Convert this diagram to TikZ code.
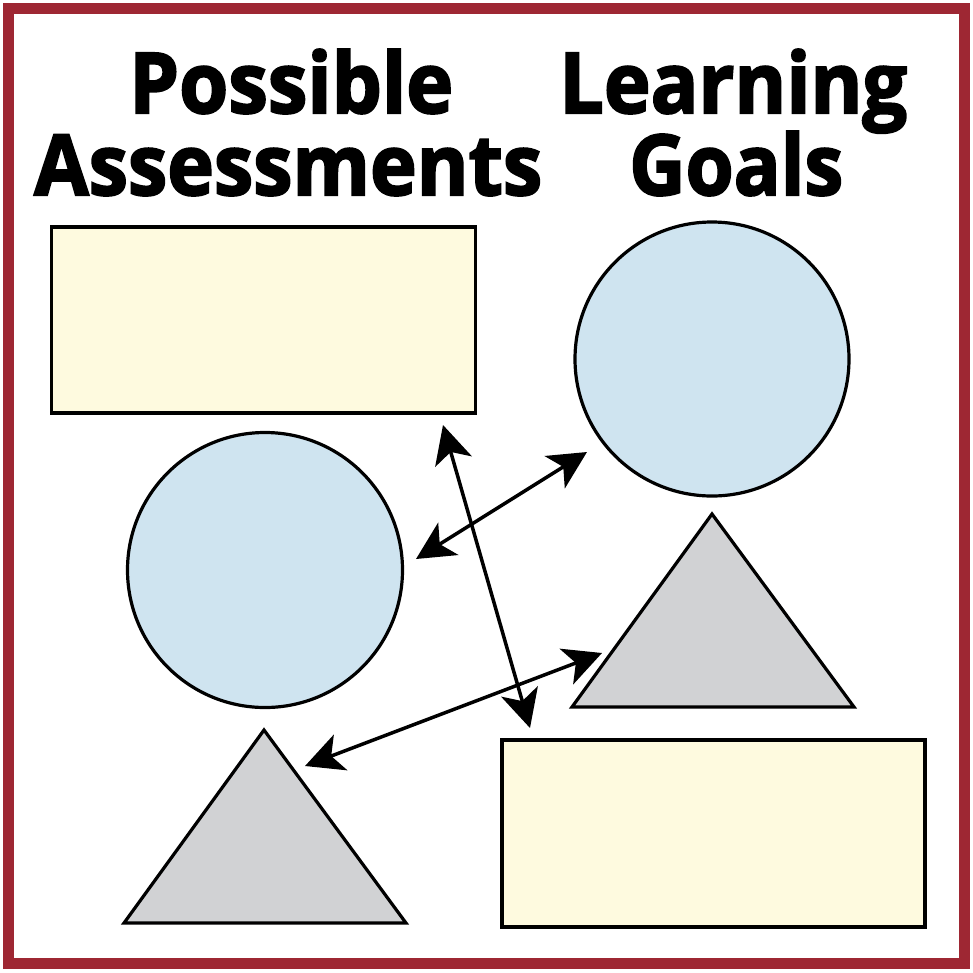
\documentclass[tikz,border=0pt]{standalone}
\usepackage{fontspec}
\setmainfont{Open Sans}
\newfontfamily\titlefont{Open Sans}[BoldFeatures={FakeBold=2.5}]
\usetikzlibrary{arrows.meta}
\definecolor{frame}{HTML}{9E2733}
\definecolor{cream}{HTML}{FEFADF}
\definecolor{skyblue}{HTML}{CFE4F0}
\definecolor{greyfill}{HTML}{D1D2D4}
\tikzset{
  outl/.style={draw=black, line width=3.2pt},
  box/.style={outl, fill=cream, rectangle, inner sep=0pt},
  disc/.style={outl, fill=skyblue, circle, inner sep=0pt},
  tri/.style={outl, fill=greyfill, line join=miter},
  tipA/.tip={Stealth[length=38pt 0,width=38pt 0,inset=10pt 0]},
  link/.style={line width=3.5pt, tipA-tipA},
  title/.style={anchor=base west, inner sep=0pt, font=\fontsize{84}{84}\titlefont\bfseries}
}
\begin{document}
\begin{tikzpicture}[x=1pt,y=-1pt]
\useasboundingbox (0,0) rectangle (973,972);
\fill[white] (0,0) rectangle (973,972);
\draw[frame, line width=11pt] (8.5,8.5) rectangle (964.5,963.5);

\node[title] (t1) at (129,113) {\resizebox{324pt}{\height}{Possible}};
\node[title] (t2) at (34,195) {\resizebox{508pt}{\height}{Assessments}};
\node[title] (t3) at (559,113) {\resizebox{348pt}{\height}{Learning}};
\node[title] (t4) at (629,195) {\resizebox{214pt}{\height}{Goals}};

\node[box, minimum width=424pt, minimum height=186pt] (r1) at (263.5,320) {};
\node[box, minimum width=423pt, minimum height=187pt] (r2) at (713.5,833.5) {};
\node[disc, minimum size=274pt] (c1) at (712,359) {};
\node[disc, minimum size=275pt] (c2) at (265,570) {};
\draw[tri] (712,514) -- (854,707) -- (572,707) -- cycle;
\draw[tri] (264,730) -- (406,923) -- (124,923) -- cycle;

\coordinate (a1) at (443,425);
\coordinate (b1) at (530,728);
\coordinate (a2) at (416,559);
\coordinate (b2) at (587,452);
\coordinate (a3) at (305,766);
\coordinate (b3) at (602,653);
\draw[link] (a1) -- (b1);
\draw[link] (a2) -- (b2);
\draw[link] (a3) -- (b3);
\end{tikzpicture}
\end{document}
